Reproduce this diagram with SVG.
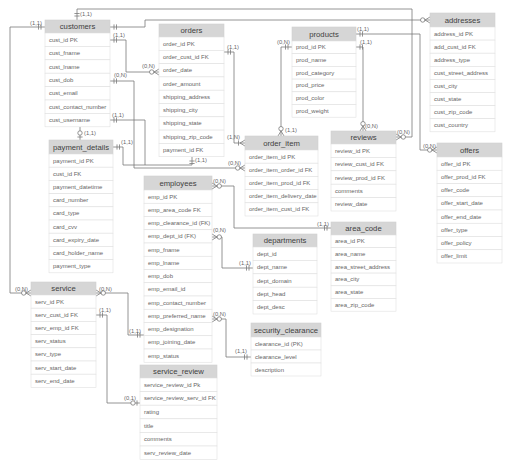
<svg xmlns="http://www.w3.org/2000/svg" width="512" height="469" viewBox="0 0 512 469">
<style>
.hd{fill:#d6d6d6;stroke:#cfcfcf;stroke-width:0.6}
.rw{fill:#fff;stroke:#e0e0e0;stroke-width:0.6}
.ht{font-family:"Liberation Sans",Arial,sans-serif;font-size:7.7px;fill:#404040;text-anchor:middle;dominant-baseline:central}
.rt{font-family:"Liberation Sans",Arial,sans-serif;font-size:6px;fill:#666;dominant-baseline:central}
.ln{fill:none;stroke:#7a7a7a;stroke-width:0.8}
.lb{font-family:"Liberation Sans",Arial,sans-serif;font-size:5.8px;fill:#666}
.mk{fill:none;stroke:#7a7a7a;stroke-width:0.8}
.mc{fill:#fff;stroke:#7a7a7a;stroke-width:0.8}
</style>
<defs>
<marker id="one" markerUnits="userSpaceOnUse" viewBox="-10 -10 20 20" markerWidth="20" markerHeight="20" refX="0" refY="0" orient="auto-start-reverse" overflow="visible"><path class="mk" d="M-4,-2.6V2.6M-6.5,-2.6V2.6"/></marker>
<marker id="zm" markerUnits="userSpaceOnUse" viewBox="-10 -10 20 20" markerWidth="20" markerHeight="20" refX="0" refY="0" orient="auto-start-reverse" overflow="visible"><path class="mk" d="M-5,0L0,-3M-5,0L0,3"/><circle class="mc" cx="-7.3" cy="0" r="2.2"/></marker>
<marker id="om" markerUnits="userSpaceOnUse" viewBox="-10 -10 20 20" markerWidth="20" markerHeight="20" refX="0" refY="0" orient="auto-start-reverse" overflow="visible"><path class="mk" d="M-5,0L0,-3M-5,0L0,3M-6.5,-2.6V2.6"/></marker>
<marker id="zo" markerUnits="userSpaceOnUse" viewBox="-10 -10 20 20" markerWidth="20" markerHeight="20" refX="0" refY="0" orient="auto-start-reverse" overflow="visible"><path class="mk" d="M-3,-2.6V2.6"/><circle class="mc" cx="-7" cy="0" r="2.2"/></marker>
</defs>
<rect width="512" height="469" fill="#fff"/>

<g id="connectors">
<path class="ln" d="M77,20V9H412V137H396" marker-start="url(#one)" marker-end="url(#zm)"/>
<path class="ln" d="M110,27H145V20H430" marker-start="url(#one)" marker-end="url(#zm)"/>
<path class="ln" d="M110,40H126V72H159" marker-start="url(#one)" marker-end="url(#zm)"/>
<path class="ln" d="M110,81H134V168H245" marker-start="url(#one)" marker-end="url(#zm)"/>
<path class="ln" d="M80,127V140" marker-end="url(#zo)"/>
<path class="ln" d="M113,147H123V165H192V157" marker-start="url(#one)" marker-end="url(#one)"/>
<path class="ln" d="M110,120H145V165" marker-start="url(#one)"/>
<path class="ln" d="M224,52H234V143H245" marker-start="url(#one)" marker-end="url(#om)"/>
<path class="ln" d="M292,47H281V136" marker-start="url(#one)" marker-end="url(#zm)"/>
<path class="ln" d="M356,47H363V131" marker-start="url(#one)" marker-end="url(#zm)"/>
<path class="ln" d="M356,34H420V150H437" marker-start="url(#one)" marker-end="url(#zm)"/>
<path class="ln" d="M45,27H10V293H31" marker-start="url(#one)" marker-end="url(#zm)"/>
<path class="ln" d="M96,293H128V335H144" marker-start="url(#zm)" marker-end="url(#one)"/>
<path class="ln" d="M96,315H107V403H140" marker-start="url(#one)" marker-end="url(#zo)"/>
<path class="ln" d="M212,186H234V228H331" marker-start="url(#zm)" marker-end="url(#one)"/>
<path class="ln" d="M212,237H222V268H253" marker-start="url(#zm)" marker-end="url(#one)"/>
<path class="ln" d="M212,319H226V357H251" marker-start="url(#zm)" marker-end="url(#one)"/>
<text class="lb" x="80" y="16">(1,1)</text>
<text class="lb" x="397" y="134">(0,N)</text>
<text class="lb" x="113" y="37">(1,1)</text>
<text class="lb" x="142" y="68">(0,N)</text>
<text class="lb" x="114" y="77">(0,N)</text>
<text class="lb" x="228" y="165">(0,N)</text>
<text class="lb" x="84" y="135">(1,1)</text>
<text class="lb" x="121" y="144">(1,1)</text>
<text class="lb" x="195" y="162">(1,1)</text>
<text class="lb" x="112" y="117">(1,1)</text>
<text class="lb" x="227" y="49">(1,1)</text>
<text class="lb" x="227" y="139">(1,N)</text>
<text class="lb" x="277" y="44">(0,N)</text>
<text class="lb" x="285" y="132">(1,1)</text>
<text class="lb" x="360" y="44">(1,1)</text>
<text class="lb" x="365" y="128">(0,N)</text>
<text class="lb" x="357" y="31">(1,1)</text>
<text class="lb" x="423" y="148">(0,N)</text>
<text class="lb" x="30" y="25">(1,1)</text>
<text class="lb" x="15" y="291">(0,N)</text>
<text class="lb" x="99" y="291">(0,N)</text>
<text class="lb" x="129" y="333">(1,1)</text>
<text class="lb" x="99" y="312">(1,1)</text>
<text class="lb" x="124" y="400">(0,1)</text>
<text class="lb" x="213" y="183">(0,N)</text>
<text class="lb" x="317" y="226">(1,1)</text>
<text class="lb" x="213" y="232">(0,N)</text>
<text class="lb" x="239" y="265">(1,1)</text>
<text class="lb" x="213" y="316">(0,N)</text>
<text class="lb" x="235" y="353">(1,1)</text>
</g>

<g id="customers" transform="translate(45,20)">
<rect class="hd" width="65" height="13"/><text class="ht" x="32.5" y="6.5">customers</text>
<rect class="rw" y="13" width="65" height="13.4"/><text class="rt" x="4" y="19.7">cust_id PK</text>
<rect class="rw" y="26.4" width="65" height="13.4"/><text class="rt" x="4" y="33.1">cust_fname</text>
<rect class="rw" y="39.8" width="65" height="13.4"/><text class="rt" x="4" y="46.5">cust_lname</text>
<rect class="rw" y="53.2" width="65" height="13.4"/><text class="rt" x="4" y="59.9">cust_dob</text>
<rect class="rw" y="66.6" width="65" height="13.4"/><text class="rt" x="4" y="73.3">cust_email</text>
<rect class="rw" y="80" width="65" height="13.4"/><text class="rt" x="4" y="86.7">cust_contact_number</text>
<rect class="rw" y="93.4" width="65" height="13.4"/><text class="rt" x="4" y="100.1">cust_username</text>
</g>

<g id="orders" transform="translate(159,24)">
<rect class="hd" width="65" height="13"/><text class="ht" x="32.5" y="6.5">orders</text>
<rect class="rw" y="13" width="65" height="13.3"/><text class="rt" x="4" y="19.65">order_id PK</text>
<rect class="rw" y="26.3" width="65" height="13.3"/><text class="rt" x="4" y="32.95">order_cust_id FK</text>
<rect class="rw" y="39.6" width="65" height="13.3"/><text class="rt" x="4" y="46.25">order_date</text>
<rect class="rw" y="52.9" width="65" height="13.3"/><text class="rt" x="4" y="59.55">order_amount</text>
<rect class="rw" y="66.2" width="65" height="13.3"/><text class="rt" x="4" y="72.85">shipping_address</text>
<rect class="rw" y="79.5" width="65" height="13.3"/><text class="rt" x="4" y="86.15">shipping_city</text>
<rect class="rw" y="92.8" width="65" height="13.3"/><text class="rt" x="4" y="99.45">shipping_state</text>
<rect class="rw" y="106.1" width="65" height="13.3"/><text class="rt" x="4" y="112.75">shipping_zip_code</text>
<rect class="rw" y="119.4" width="65" height="13.3"/><text class="rt" x="4" y="126.05">payment_id FK</text>
</g>

<g id="products" transform="translate(292,27)">
<rect class="hd" width="64" height="14"/><text class="ht" x="32" y="7">products</text>
<rect class="rw" y="14" width="64" height="12.7"/><text class="rt" x="4" y="20.35">prod_id PK</text>
<rect class="rw" y="26.7" width="64" height="12.7"/><text class="rt" x="4" y="33.05">prod_name</text>
<rect class="rw" y="39.4" width="64" height="12.7"/><text class="rt" x="4" y="45.75">prod_category</text>
<rect class="rw" y="52.1" width="64" height="12.7"/><text class="rt" x="4" y="58.45">prod_price</text>
<rect class="rw" y="64.8" width="64" height="12.7"/><text class="rt" x="4" y="71.15">prod_color</text>
<rect class="rw" y="77.5" width="64" height="12.7"/><text class="rt" x="4" y="83.85">prod_weight</text>
</g>

<g id="addresses" transform="translate(430,13)">
<rect class="hd" width="65" height="14"/><text class="ht" x="32.5" y="7">addresses</text>
<rect class="rw" y="14" width="65" height="13.1"/><text class="rt" x="4" y="20.55">address_id PK</text>
<rect class="rw" y="27.1" width="65" height="13.1"/><text class="rt" x="4" y="33.65">add_cust_id FK</text>
<rect class="rw" y="40.2" width="65" height="13.1"/><text class="rt" x="4" y="46.75">address_type</text>
<rect class="rw" y="53.3" width="65" height="13.1"/><text class="rt" x="4" y="59.85">cust_street_address</text>
<rect class="rw" y="66.4" width="65" height="13.1"/><text class="rt" x="4" y="72.95">cust_city</text>
<rect class="rw" y="79.5" width="65" height="13.1"/><text class="rt" x="4" y="86.05">cust_state</text>
<rect class="rw" y="92.6" width="65" height="13.1"/><text class="rt" x="4" y="99.15">cust_zip_code</text>
<rect class="rw" y="105.7" width="65" height="13.1"/><text class="rt" x="4" y="112.25">cust_country</text>
</g>

<g id="reviews" transform="translate(331,131)">
<rect class="hd" width="65" height="13"/><text class="ht" x="32.5" y="6.5">reviews</text>
<rect class="rw" y="13" width="65" height="13.4"/><text class="rt" x="4" y="19.7">review_id PK</text>
<rect class="rw" y="26.4" width="65" height="13.4"/><text class="rt" x="4" y="33.1">review_cust_id FK</text>
<rect class="rw" y="39.8" width="65" height="13.4"/><text class="rt" x="4" y="46.5">review_prod_id FK</text>
<rect class="rw" y="53.2" width="65" height="13.4"/><text class="rt" x="4" y="59.9">comments</text>
<rect class="rw" y="66.6" width="65" height="13.4"/><text class="rt" x="4" y="73.3">review_date</text>
</g>

<g id="offers" transform="translate(437,143)">
<rect class="hd" width="65" height="14"/><text class="ht" x="32.5" y="7">offers</text>
<rect class="rw" y="14" width="65" height="13.25"/><text class="rt" x="4" y="20.6">offer_id PK</text>
<rect class="rw" y="27.25" width="65" height="13.25"/><text class="rt" x="4" y="33.9">offer_prod_id FK</text>
<rect class="rw" y="40.5" width="65" height="13.25"/><text class="rt" x="4" y="47.1">offer_code</text>
<rect class="rw" y="53.75" width="65" height="13.25"/><text class="rt" x="4" y="60.4">offer_start_date</text>
<rect class="rw" y="67" width="65" height="13.25"/><text class="rt" x="4" y="73.6">offer_end_date</text>
<rect class="rw" y="80.25" width="65" height="13.25"/><text class="rt" x="4" y="86.9">offer_type</text>
<rect class="rw" y="93.5" width="65" height="13.25"/><text class="rt" x="4" y="100.1">offer_policy</text>
<rect class="rw" y="106.75" width="65" height="13.25"/><text class="rt" x="4" y="113.4">offer_limit</text>
</g>

<g id="order_item" transform="translate(245,136)">
<rect class="hd" width="73" height="14"/><text class="ht" x="36.5" y="7">order_item</text>
<rect class="rw" y="14" width="73" height="13.2"/><text class="rt" x="4" y="20.6">order_item_id PK</text>
<rect class="rw" y="27.2" width="73" height="13.2"/><text class="rt" x="4" y="33.8">order_item_order_id FK</text>
<rect class="rw" y="40.4" width="73" height="13.2"/><text class="rt" x="4" y="47">order_item_prod_id FK</text>
<rect class="rw" y="53.6" width="73" height="13.2"/><text class="rt" x="4" y="60.2">order_item_delivery_date</text>
<rect class="rw" y="66.8" width="73" height="13.2"/><text class="rt" x="4" y="73.4">order_item_cust_id FK</text>
</g>

<g id="payment_details" transform="translate(49,140)">
<rect class="hd" width="64" height="14"/><text class="ht" x="32" y="7">payment_details</text>
<rect class="rw" y="14" width="64" height="13.2"/><text class="rt" x="4" y="20.6">payment_id PK</text>
<rect class="rw" y="27.2" width="64" height="13.2"/><text class="rt" x="4" y="33.8">cust_id FK</text>
<rect class="rw" y="40.4" width="64" height="13.2"/><text class="rt" x="4" y="47">payment_datetime</text>
<rect class="rw" y="53.6" width="64" height="13.2"/><text class="rt" x="4" y="60.2">card_number</text>
<rect class="rw" y="66.8" width="64" height="13.2"/><text class="rt" x="4" y="73.4">card_type</text>
<rect class="rw" y="80" width="64" height="13.2"/><text class="rt" x="4" y="86.6">card_cvv</text>
<rect class="rw" y="93.2" width="64" height="13.2"/><text class="rt" x="4" y="99.8">card_expiry_date</text>
<rect class="rw" y="106.4" width="64" height="13.2"/><text class="rt" x="4" y="113">card_holder_name</text>
<rect class="rw" y="119.6" width="64" height="13.2"/><text class="rt" x="4" y="126.2">payment_type</text>
</g>

<g id="employees" transform="translate(144,176)">
<rect class="hd" width="68" height="14"/><text class="ht" x="34" y="7">employees</text>
<rect class="rw" y="14" width="68" height="13.25"/><text class="rt" x="4" y="20.6">emp_id PK</text>
<rect class="rw" y="27.25" width="68" height="13.25"/><text class="rt" x="4" y="33.9">emp_area_code FK</text>
<rect class="rw" y="40.5" width="68" height="13.25"/><text class="rt" x="4" y="47.1">emp_clearance_id (FK)</text>
<rect class="rw" y="53.75" width="68" height="13.25"/><text class="rt" x="4" y="60.4">emp_dept_id (FK)</text>
<rect class="rw" y="67" width="68" height="13.25"/><text class="rt" x="4" y="73.6">emp_fname</text>
<rect class="rw" y="80.25" width="68" height="13.25"/><text class="rt" x="4" y="86.9">emp_lname</text>
<rect class="rw" y="93.5" width="68" height="13.25"/><text class="rt" x="4" y="100.1">emp_dob</text>
<rect class="rw" y="106.75" width="68" height="13.25"/><text class="rt" x="4" y="113.4">emp_email_id</text>
<rect class="rw" y="120" width="68" height="13.25"/><text class="rt" x="4" y="126.6">emp_contact_number</text>
<rect class="rw" y="133.25" width="68" height="13.25"/><text class="rt" x="4" y="139.9">emp_preferred_name</text>
<rect class="rw" y="146.5" width="68" height="13.25"/><text class="rt" x="4" y="153.1">emp_designation</text>
<rect class="rw" y="159.75" width="68" height="13.25"/><text class="rt" x="4" y="166.4">emp_joining_date</text>
<rect class="rw" y="173" width="68" height="13.25"/><text class="rt" x="4" y="179.6">emp_status</text>
</g>

<g id="departments" transform="translate(253,234)">
<rect class="hd" width="64" height="13"/><text class="ht" x="32" y="6.5">departments</text>
<rect class="rw" y="13" width="64" height="13.4"/><text class="rt" x="4" y="19.7">dept_id</text>
<rect class="rw" y="26.4" width="64" height="13.4"/><text class="rt" x="4" y="33.1">dept_name</text>
<rect class="rw" y="39.8" width="64" height="13.4"/><text class="rt" x="4" y="46.5">dept_domain</text>
<rect class="rw" y="53.2" width="64" height="13.4"/><text class="rt" x="4" y="59.9">dept_head</text>
<rect class="rw" y="66.6" width="64" height="13.4"/><text class="rt" x="4" y="73.3">dept_desc</text>
</g>

<g id="area_code" transform="translate(331,222)">
<rect class="hd" width="65" height="13"/><text class="ht" x="32.5" y="6.5">area_code</text>
<rect class="rw" y="13" width="65" height="12.7"/><text class="rt" x="4" y="19.35">area_id PK</text>
<rect class="rw" y="25.7" width="65" height="12.7"/><text class="rt" x="4" y="32.05">area_name</text>
<rect class="rw" y="38.4" width="65" height="12.7"/><text class="rt" x="4" y="44.75">area_street_address</text>
<rect class="rw" y="51.1" width="65" height="12.7"/><text class="rt" x="4" y="57.45">area_city</text>
<rect class="rw" y="63.8" width="65" height="12.7"/><text class="rt" x="4" y="70.15">area_state</text>
<rect class="rw" y="76.5" width="65" height="12.7"/><text class="rt" x="4" y="82.85">area_zip_code</text>
</g>

<g id="security_clearance" transform="translate(251,323)">
<rect class="hd" width="70" height="14"/><text class="ht" x="35" y="7">security_clearance</text>
<rect class="rw" y="14" width="70" height="13"/><text class="rt" x="4" y="20.5">clearance_id (PK)</text>
<rect class="rw" y="27" width="70" height="13"/><text class="rt" x="4" y="33.5">clearance_level</text>
<rect class="rw" y="40" width="70" height="13"/><text class="rt" x="4" y="46.5">description</text>
</g>

<g id="service" transform="translate(31,282)">
<rect class="hd" width="65" height="13"/><text class="ht" x="32.5" y="6.5">service</text>
<rect class="rw" y="13" width="65" height="13.2"/><text class="rt" x="4" y="19.6">serv_id PK</text>
<rect class="rw" y="26.2" width="65" height="13.2"/><text class="rt" x="4" y="32.8">serv_cust_id FK</text>
<rect class="rw" y="39.4" width="65" height="13.2"/><text class="rt" x="4" y="46">serv_emp_id FK</text>
<rect class="rw" y="52.6" width="65" height="13.2"/><text class="rt" x="4" y="59.2">serv_status</text>
<rect class="rw" y="65.8" width="65" height="13.2"/><text class="rt" x="4" y="72.4">serv_type</text>
<rect class="rw" y="79" width="65" height="13.2"/><text class="rt" x="4" y="85.6">serv_start_date</text>
<rect class="rw" y="92.2" width="65" height="13.2"/><text class="rt" x="4" y="98.8">serv_end_date</text>
</g>

<g id="service_review" transform="translate(140,365)">
<rect class="hd" width="77" height="13"/><text class="ht" x="38.5" y="6.5">service_review</text>
<rect class="rw" y="13" width="77" height="13.6"/><text class="rt" x="4" y="19.8">service_review_id Pk</text>
<rect class="rw" y="26.6" width="77" height="13.6"/><text class="rt" x="4" y="33.4">service_review_serv_id FK</text>
<rect class="rw" y="40.2" width="77" height="13.6"/><text class="rt" x="4" y="47">rating</text>
<rect class="rw" y="53.8" width="77" height="13.6"/><text class="rt" x="4" y="60.6">title</text>
<rect class="rw" y="67.4" width="77" height="13.6"/><text class="rt" x="4" y="74.2">comments</text>
<rect class="rw" y="81" width="77" height="13.6"/><text class="rt" x="4" y="87.8">serv_review_date</text>
</g>
</svg>
